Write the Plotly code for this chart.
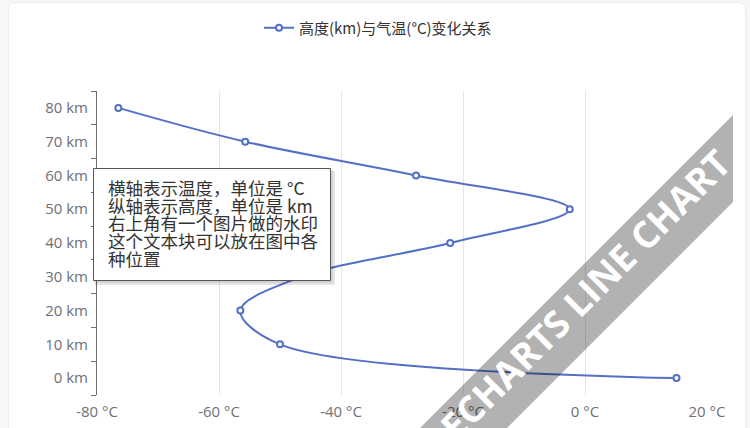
import plotly.graph_objects as go

# data
altitude = [0, 10, 20, 30, 40, 50, 60, 70, 80]
temperature = [15, -50, -56.5, -46.5, -22.1, -2.5, -27.7, -55.7, -76.5]
y_labels = [f"{a} km" for a in altitude]
x_ticks = [-80, -60, -40, -20, 0, 20]
x_tick_labels = [f"{v} °C" for v in x_ticks]
series_name = "高度(km)与气温(°C)变化关系"
note_lines = ["横轴表示温度，单位是 °C", "纵轴表示高度，单位是 km",
              "右上角有一个图片做的水印", "这个文本块可以放在图中各", "种位置"]
watermark_text = "ECHARTS LINE CHART"

W, H = 750, 428
L, R, T, B = 97, 707, 91, 395


def px(x):
    return (x - L) / (R - L)


def py(y):
    return (B - y) / (B - T)


def path(points):
    return "M " + " L ".join(f"{px(a)},{py(b)}" for a, b in points) + " Z"


def rounded(x0, y0, x1, y1, r):
    X0, X1 = px(x0), px(x1)
    Y0, Y1 = py(y0), py(y1)
    rx = r / (R - L)
    ry = r / (B - T)
    return (f"M {X0+rx},{Y0} L {X1-rx},{Y0} Q {X1},{Y0} {X1},{Y0-ry} "
            f"L {X1},{Y1+ry} Q {X1},{Y1} {X1-rx},{Y1} L {X0+rx},{Y1} "
            f"Q {X0},{Y1} {X0},{Y1+ry} L {X0},{Y0-ry} Q {X0},{Y0} {X0+rx},{Y0} Z")


fig = go.Figure()
fig.add_trace(go.Scatter(
    x=temperature, y=y_labels, name=series_name, mode="lines+markers",
    line=dict(color="#5470c6", width=2, shape="spline", smoothing=1.0),
    marker=dict(symbol="circle", size=6, color="white",
                line=dict(color="#5470c6", width=2)),
    showlegend=True,
))

shapes = []
# card background
shapes.append(dict(type="path", xref="paper", yref="paper",
                   path=rounded(8, 2, 746, 460, 7),
                   fillcolor="rgba(0,0,0,0.04)", line=dict(width=0), layer="below"))
shapes.append(dict(type="path", xref="paper", yref="paper",
                   path=rounded(9, 3, 745, 460, 6),
                   fillcolor="white", line=dict(width=0), layer="below"))
# text box shadow + box
shapes.append(dict(type="rect", xref="paper", yref="paper",
                   x0=px(95), x1=px(335), y0=py(171), y1=py(285),
                   fillcolor="rgba(0,0,0,0.10)", line=dict(width=0), layer="above"))
shapes.append(dict(type="rect", xref="paper", yref="paper",
                   x0=px(94), x1=px(333), y0=py(170), y1=py(283),
                   fillcolor="rgba(0,0,0,0.08)", line=dict(width=0), layer="above"))
shapes.append(dict(type="rect", xref="paper", yref="paper",
                   x0=px(93.5), x1=px(330.5), y0=py(168.5), y1=py(280.5),
                   fillcolor="white", line=dict(color="#555", width=1), layer="above"))
# watermark band
shapes.append(dict(type="path", xref="paper", yref="paper",
                   path=path([(400, 448), (733, 115), (733, 202), (487, 448)]),
                   fillcolor="rgba(0,0,0,0.3)", line=dict(width=0), layer="above"))

annotations = []
for i, t in enumerate(note_lines):
    annotations.append(dict(
        text=t, xref="paper", yref="paper", x=px(106), y=py(187.5 + i * 17.7),
        xanchor="left", yanchor="middle", showarrow=False, align="left",
        font=dict(family="Noto Sans CJK SC", size=17.5, color="#333")))
annotations.append(dict(
    text=f"<b>{watermark_text}</b>", xref="paper", yref="paper",
    x=px(584), y=py(294), xanchor="center", yanchor="middle",
    showarrow=False, textangle=-45,
    font=dict(family="Open Sans", size=37, color="white")))

fig.update_layout(
    width=W, height=H,
    margin=dict(l=L, r=W - R, t=T, b=H - B, pad=0),
    paper_bgcolor="#f6f7f9", plot_bgcolor="rgba(0,0,0,0)",
    font=dict(family="Open Sans", size=15, color="#6E7079"),
    showlegend=True,
    legend=dict(orientation="h", x=px(378), xanchor="center",
                y=py(28), yanchor="middle", bgcolor="rgba(0,0,0,0)",
                font=dict(family="Noto Sans CJK SC", size=15, color="#333")),
    shapes=shapes, annotations=annotations,
    xaxis=dict(range=[-80, 20], tickmode="array", tickvals=x_ticks,
               ticktext=x_tick_labels, automargin=False,
               showgrid=True, gridcolor="#E0E6F1", gridwidth=1,
               zeroline=False, showline=False, ticks="outside",
               ticklen=3, tickcolor="rgba(0,0,0,0)",
               tickfont=dict(family="Open Sans", size=15, color="#6E7079")),
    yaxis=dict(type="category", categoryorder="array", categoryarray=y_labels,
               range=[-0.5, 8.5], tickson="boundaries", ticks="outside",
               ticklen=5, tickcolor="#6E7079", showline=True, automargin=False,
               linecolor="#6E7079", linewidth=1, showgrid=False,
               zeroline=False, ticklabelstandoff=5,
               tickfont=dict(family="Open Sans", size=15, color="#6E7079")),
)

fig.write_html("out.html", config={"displayModeBar": False},
               post_script="document.body.style.margin='0';document.body.style.padding='0';")
